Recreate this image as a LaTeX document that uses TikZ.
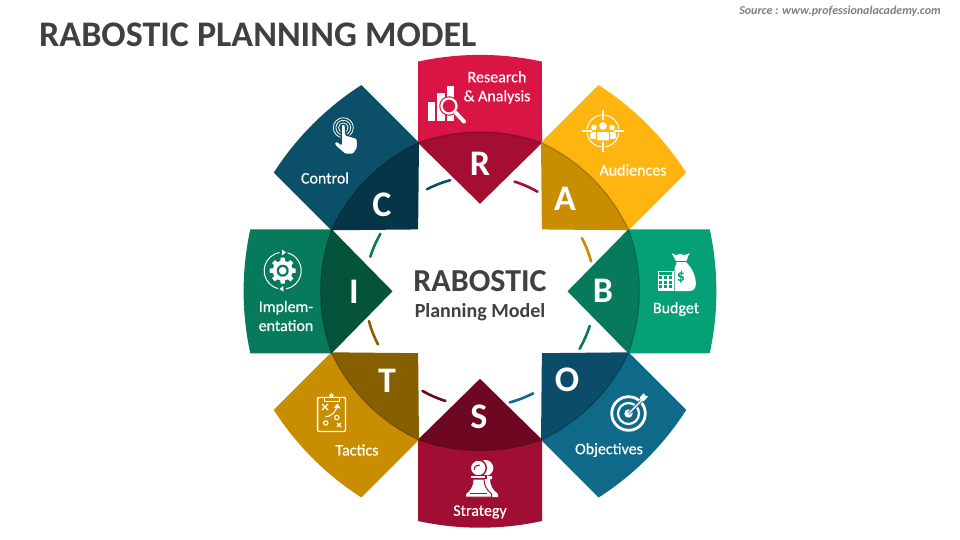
\documentclass[tikz,border=0pt]{standalone}
\usepackage{fontspec}
\setmainfont{Carlito}
\newfontfamily\labfont[FakeBold=0.5]{Carlito}
\definecolor{ink}{HTML}{404040}
\definecolor{srcgray}{HTML}{7F7F7F}
\definecolor{rA}{HTML}{D91545}\definecolor{rB}{HTML}{A30E32}
\definecolor{aA}{HTML}{FFB50F}\definecolor{aB}{HTML}{C98D00}
\definecolor{bA}{HTML}{06A077}\definecolor{bB}{HTML}{067A5A}
\definecolor{oA}{HTML}{0F6A8A}\definecolor{oB}{HTML}{0B4C68}
\definecolor{sA}{HTML}{A00E33}\definecolor{sB}{HTML}{6E0822}
\definecolor{tA}{HTML}{C98D00}\definecolor{tB}{HTML}{855F00}
\definecolor{iA}{HTML}{067A5A}\definecolor{iB}{HTML}{05533B}
\definecolor{cA}{HTML}{0B4F68}\definecolor{cB}{HTML}{063547}
\newcommand{\petal}[3]{%
  \begin{scope}[shift={(480,291.3)},rotate=#1]
    \fill[#2] (-62,-148.3) -- (-62,-229.7) arc[start angle=257.66,end angle=282.34,radius=290] -- (62,-148.3) -- cycle;
    \fill[#3] (-62,-148.3) arc[start angle=249.85,end angle=290.15,radius=180] -- (0,-87.5) -- cycle;
    \draw[black,opacity=.22,line width=1.3pt] (-62,-148.3) arc[start angle=249.85,end angle=290.15,radius=180];
  \end{scope}}
\newcommand{\dash}[2]{%
  \begin{scope}[shift={(480,291.3)},rotate=#1]
    \draw[#2,line width=2.6pt,line cap=round] (0,0) ++(287.5:115) arc[start angle=287.5,end angle=300,radius=115];
  \end{scope}}
\tikzset{
  letter/.style={font=\fontsize{36}{36}\selectfont\bfseries,text=white,inner sep=0pt},
  lab/.style={font=\fontsize{16}{19}\selectfont\labfont,text=white,inner sep=0pt,align=center},
  icon/.style={fill=white,draw=none},
  iconline/.style={draw=white,line width=1pt}
}
\begin{document}
\begin{tikzpicture}[x=1pt,y=1pt,yscale=-1]
\useasboundingbox (0,0) rectangle (960,540);
\fill[white] (0,0) rectangle (960,540);
\node[anchor=west,inner sep=0pt,text=ink,font=\fontsize{36}{36}\selectfont\bfseries] (title) at (39,35) {RABOSTIC PLANNING MODEL};
\node[anchor=east,inner sep=0pt,text=srcgray,font=\fontsize{12}{12}\selectfont\bfseries\itshape] (source) at (941,11) {Source : www.professionalacademy.com};
% petals
\petal{0}{rA}{rB}
\petal{45}{aA}{aB}
\petal{90}{bA}{bB}
\petal{135}{oA}{oB}
\petal{180}{sA}{sB}
\petal{225}{tA}{tB}
\petal{270}{iA}{iB}
\petal{315}{cA}{cB}
% arcs between
\dash{0}{rB}\dash{45}{aB}\dash{90}{bB}\dash{135}{oA}\dash{180}{sB}\dash{225}{tB}\dash{270}{iA}\dash{315}{cA}
% centre
\node[inner sep=0pt,text=ink,font=\fontsize{32}{32}\selectfont\bfseries] (hub1) at (480,281) {RABOSTIC};
\node[inner sep=0pt,text=ink,font=\fontsize{20}{20}\selectfont\bfseries] (hub2) at (480,312) {Planning Model};
% letters
\node[letter] (lR) at (480,164) {R};
\node[letter] (lA) at (565,199) {A};
\node[letter] (lB) at (603,291) {B};
\node[letter] (lO) at (567,380) {O};
\node[letter] (lS) at (479,417) {S};
\node[letter] (lT) at (387,381) {T};
\node[letter] (lI) at (354,292) {I};
\node[letter] (lC) at (382,205) {C};
% labels
\node[lab] (tR) at (497,87.5) {Research\\\& Analysis};
\node[lab] (tA) at (633,170) {Audiences};
\node[lab] (tB) at (676,309) {Budget};
\node[lab] (tO) at (609,450) {Objectives};
\node[lab] (tS) at (480,512) {Strategy};
\node[lab] (tT) at (357,450) {Tactics};
\node[lab] (tI) at (286,316) {Implem-\\entation};
\node[lab] (tC) at (325,178) {Control};
% ---- icon: research
\fill[icon] (428,102) rectangle (435,121);
\fill[icon] (437,93) rectangle (445,121);
\fill[icon] (447,86) rectangle (454,121);
\draw[rA,line width=1.5pt] (449,106) circle[radius=9];
\draw[white,line width=4pt,line cap=round] (456,113) -- (464,121.5);
\draw[white,line width=2.2pt,fill=rA] (449,106) circle[radius=7.5];
% ---- icon: audiences
\draw[iconline] (603,131) circle[radius=16];
\foreach \a in {0,90,180,270}{
  \draw[aA,line width=3.5pt] (603,131) ++(\a:14) -- ++(\a:4);
  \draw[white,line width=1.2pt] (603,131) ++(\a:11) -- ++(\a:10);
}
\fill[icon] (594,127.5) circle[radius=2.8];
\fill[icon] (612,127.5) circle[radius=2.8];
\fill[icon,rounded corners=1.5pt] (590,139) -- (590,132) -- (598,132) -- (598,139) -- cycle;
\fill[icon,rounded corners=1.5pt] (608,139) -- (608,132) -- (616,132) -- (616,139) -- cycle;
\draw[aA,line width=1pt,fill=white] (603,126) circle[radius=4.5];
\draw[aA,line width=1pt,fill=white,rounded corners=2pt] (596.5,141) -- (596.5,131.5) -- (609.5,131.5) -- (609.5,141) -- cycle;
% ---- icon: budget
\fill[icon] (657.5,270.5) rectangle (673.5,291);
\foreach \x in {659,664,669}{\foreach \y in {276,280.5,285}{\fill[bA] (\x,\y) rectangle ++(3,3);}}
\fill[bA] (659,272.2) rectangle (672,274.6);
\fill[icon] (671.5,253) .. controls (676,256) and (677,255) .. (680,254) .. controls (683,255) and (685,256) .. (689.5,253) -- (686,262) .. controls (692,268) and (696,276) .. (695.8,284) .. controls (695.8,289) and (693,291) .. (689,291) -- (674.5,291) -- (674.5,268) .. controls (676,265) and (677,263) .. (676.5,262) -- cycle;
\fill[bA] (676,261) rectangle (686,262.2);
\node[inner sep=0pt,text=bA,font=\fontsize{16}{16}\selectfont\bfseries] (dollar) at (681,277) {\$};
% ---- icon: objectives
\draw[white,line width=2.8pt] (628.5,413.5) circle[radius=16.8];
\draw[white,line width=2.2pt] (628.5,413.5) circle[radius=10.5];
\fill[icon] (628.5,413.5) circle[radius=4.2];
\draw[oA,line width=3.2pt] (628.5,413.5) -- (642,400);
\draw[white,line width=1.4pt] (628.5,413.5) -- (642,400);
\fill[icon] (640,397) -- (644,393) -- (645,395.5) -- (648,396.5) -- (644,401) -- (640.5,401) -- cycle;
% ---- icon: strategy
\begin{scope}[shift={(7,0)}]
  \fill[icon] (478.3,468) circle[radius=8];
  \fill[icon] (472,476) -- (485,476) -- (485,479) -- (483,479) .. controls (483,486) and (486,490) .. (491,494) -- (491,497) -- (466,497) -- (466,494) .. controls (471,490) and (474,486) .. (474,479) -- (472,479) -- cycle;
\end{scope}
\draw[sA,line width=1.4pt,fill=white] (478.3,468) circle[radius=8];
\draw[sA,line width=1.2pt,fill=white] (470.5,475.2) rectangle (486,478.6);
\fill[icon,draw=sA,line width=1pt] (473,479) .. controls (473,486) and (470,490) .. (465.5,494) -- (465.5,497) -- (491.5,497) -- (491.5,494) .. controls (487,490) and (484,486) .. (484,479) -- cycle;
\draw[sA,line width=1pt] (470,493.5) -- (487,493.5);
\draw[sA,line width=1.1pt] (474,470) arc[start angle=180,end angle=280,radius=5];
% ---- icon: tactics
\draw[white,line width=1.3pt,rounded corners=1pt] (317.6,397.5) rectangle (345.4,431.4);
\draw[white,line width=1pt,fill=tA] (324,397) rectangle (339,401.5);
\draw[white,line width=1pt] (331.5,395.5) circle[radius=1.6];
\draw[white,line width=1.1pt] (322,404) -- (328,410) (328,404) -- (322,410);
\draw[white,line width=1.1pt] (325.5,417) .. controls (331,416) and (335,413) .. (337,407);
\fill[icon] (337.5,403.5) -- (340.5,408.5) -- (334,407.5) -- cycle;
\draw[white,line width=1.1pt] (336.8,417.5) circle[radius=2.2];
\draw[white,line width=1.1pt] (325.8,423) circle[radius=2.2];
\draw[white,line width=1.1pt] (337,423) -- (341,427) (341,423) -- (337,427);
% ---- icon: gear
\begin{scope}[shift={(282.7,270.7)}]
  \draw[white,line width=1pt] (0,0) ++(285:18.5) arc[start angle=285,end angle=440,radius=18.5];
  \draw[white,line width=1pt] (0,0) ++(105:18.5) arc[start angle=105,end angle=260,radius=18.5];
  \fill[icon] (0,0) ++(280:18.5) -- ++(-4,-3) -- ++(0,6) -- cycle;
  \fill[icon] (0,0) ++(100:18.5) -- ++(4,-3) -- ++(0,6) -- cycle;
  \foreach \a in {0,45,...,315}{
    \begin{scope}[rotate=\a]
      \fill[icon] (8,-2.7) -- (13,-2) -- (13,2) -- (8,2.7) -- cycle;
    \end{scope}
  }
  \fill[icon] (0,0) circle[radius=10];
  \fill[iA] (0,0) circle[radius=6];
  \fill[icon] (0,0) circle[radius=3.8];
\end{scope}
% ---- icon: hand
\foreach \r in {10,7.4,4.8}{\draw[white,line width=.8pt] (343.3,127.7) circle[radius=\r];}
\fill[icon,draw=cA,line width=1.2pt,line join=round,rounded corners=1.2pt] (341.2,126) .. controls (341.5,124.3) and (345,124.3) .. (345.3,126) -- (345.7,135) -- (351,136.5) -- (357.3,138.5) -- (357.5,148) -- (353.5,154.3) -- (345,154.3) -- (335,145.7) -- (334.3,142) -- (338,141.5) -- (341.3,145) -- cycle;
\end{tikzpicture}
\end{document}
